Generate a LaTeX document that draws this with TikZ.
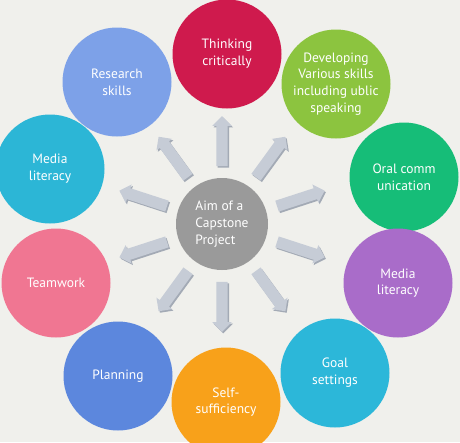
\documentclass[tikz,border=0pt]{standalone}
\usepackage{fontspec}
\setmainfont{PT Sans}
\usetikzlibrary{shapes.arrows}
\definecolor{bg}{HTML}{F0F0EC}
\definecolor{cThink}{HTML}{CF1A4D}
\definecolor{cDev}{HTML}{8CC43F}
\definecolor{cOral}{HTML}{16BD78}
\definecolor{cMedR}{HTML}{A96CC9}
\definecolor{cGoal}{HTML}{2CB7D9}
\definecolor{cSelf}{HTML}{F8A11A}
\definecolor{cPlan}{HTML}{5C87DD}
\definecolor{cTeam}{HTML}{F07692}
\definecolor{cMedL}{HTML}{2CB6D6}
\definecolor{cRes}{HTML}{7DA1E8}
\definecolor{cHub}{HTML}{9A9A9A}
\definecolor{cArrow}{HTML}{C6CCD6}
\definecolor{cArrowSh}{HTML}{A3AAB5}
\tikzset{
  bubble/.style={circle, minimum size=109pt, inner sep=0pt, text=white,
    align=center, font=\fontsize{13.5}{16.8}\selectfont},
  hubstyle/.style={circle, minimum size=92pt, inner sep=0pt, fill=cHub, text=white,
    align=left, font=\fontsize{13.5}{16.8}\selectfont},
  blockarrow/.style={single arrow, inner sep=5.5pt, minimum height=50pt,
    single arrow head extend=4pt, single arrow head indent=0pt, fill=cArrow}
}
\begin{document}
\begin{tikzpicture}[x=1pt,y=-1pt]
\fill[bg] (0,0) rectangle (460,442);
\useasboundingbox (0,0) rectangle (460,442);
\node[bubble, fill=cThink] (think) at (227,54) {Thinking\\critically};
\node[bubble, fill=cDev] (dev) at (336,84) {Developing\\Various skills\\including ublic\\speaking};
\node[bubble, fill=cOral] (oral) at (404,177) {Oral comm\\unication};
\node[bubble, fill=cMedR] (medr) at (398,283) {Media\\literacy};
\node[bubble, fill=cGoal] (goal) at (335,373) {Goal\\settings};
\node[bubble, fill=cSelf] (self) at (226,402) {Self-\\sufficiency};
\node[bubble, fill=cPlan] (plan) at (118,376) {Planning};
\node[bubble, fill=cTeam] (team) at (56,283) {Teamwork};
\node[bubble, fill=cMedL] (medl) at (50,169) {Media\\literacy};
\node[bubble, fill=cRes] (res) at (117,82) {Research\\skills};
\node[hubstyle] (hub) at (222,224) {Aim of a\\Capstone\\Project};
\foreach \a [count=\i] in {90,126,162,198,234,270,306,342,18,54}{
  \node[blockarrow, fill=cArrowSh, rotate=\a] (s\i) at ({223.3+80*cos(\a)},{225.5-80*sin(\a)}) {};
  \node[blockarrow, rotate=\a] (a\i) at ({222+80*cos(\a)},{224-80*sin(\a)}) {};
}
\end{tikzpicture}
\end{document}
